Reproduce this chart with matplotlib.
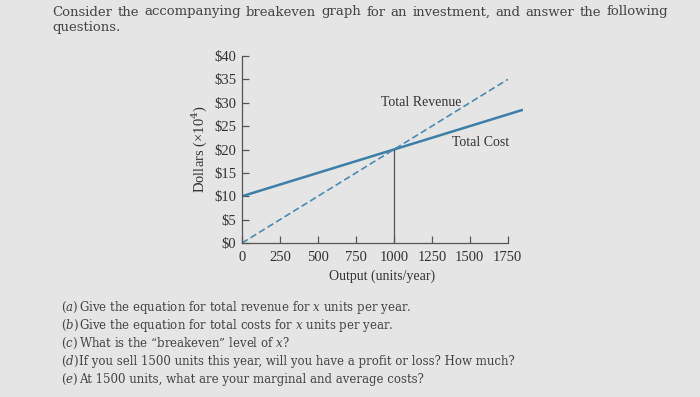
import matplotlib.pyplot as plt

# values (dollars in units of 10^4)
tick_outputs = [0, 250, 500, 750, 1000, 1250, 1500, 1750]
tick_dollars = [0, 5, 10, 15, 20, 25, 30, 35, 40]
cost_x = [0, 1000, 1850]
cost_y = [10, 20, 28.5]
revenue_x = [0, 1000, 1750]
revenue_y = [0, 20, 35]
breakeven_x = 1000
breakeven_y = 20

intro = ["Consider the accompanying breakeven graph for an investment, and answer the following",
         "questions."]
questions = [
    ("a", "Give the equation for total revenue for $x$ units per year."),
    ("b", "Give the equation for total costs for $x$ units per year."),
    ("c", "What is the \u201cbreakeven\u201d level of $x$?"),
    ("d", "If you sell 1500 units this year, will you have a profit or loss? How much?"),
    ("e", "At 1500 units, what are your marginal and average costs?"),
]

plt.rcParams["mathtext.fontset"] = "dejavuserif"

bg = "#e5e5e5"
ink = "#333333"
line_blue = "#3d7fa6"

fig = plt.figure(figsize=(7, 3.97), dpi=100, facecolor=bg)
ax = fig.add_axes([242 / 700, 154 / 397, 281 / 700, 187 / 397])
ax.set_facecolor(bg)

ax.plot(cost_x, cost_y, color=line_blue, lw=1.8, solid_capstyle="butt")
ax.plot(revenue_x, revenue_y, color="#4a8ab0", lw=1.2, ls=(0, (4, 2)))
ax.plot([breakeven_x, breakeven_x], [0, breakeven_y], color="#555555", lw=0.9)

ax.set_xlim(0, 1850)
ax.set_ylim(0, 40)
for side in ["top", "right"]:
    ax.spines[side].set_visible(False)
ax.spines["left"].set_bounds(0, 40)
ax.spines["bottom"].set_bounds(0, 1750)
for side in ["left", "bottom"]:
    ax.spines[side].set_color("#555555")
    ax.spines[side].set_linewidth(0.9)

serif = "Liberation Serif"
ax.set_xticks(tick_outputs)
ax.set_xticklabels([str(v) for v in tick_outputs], family=serif, fontsize=10.5, color=ink)
ax.set_yticks(tick_dollars)
ax.set_yticklabels(["\\$%d" % v for v in tick_dollars], family=serif, fontsize=10.5, color=ink)
ax.tick_params(direction="in", length=5, width=0.9, color="#555555", pad=4)
ax.tick_params(axis="x", pad=6)

ax.set_xlabel("Output (units/year)", family=serif, fontsize=10, color=ink, labelpad=4)
ax.set_ylabel("Dollars (\u00d710$^4$)", family=serif, fontsize=10.5, color=ink, labelpad=4)

ax.text(1180, 30.1, "Total Revenue", family=serif, fontsize=10, color=ink, ha="center", va="center")
ax.text(1570, 21.4, "Total Cost", family=serif, fontsize=10, color=ink, ha="center", va="center")

# intro text, first line justified between the page margins
left_px, right_px = 52, 668
words = intro[0].split()
renderer = fig.canvas.get_renderer()
items = []
for w in words:
    t = fig.text(0, 1 - 12 / 397, w, family="DejaVu Serif", fontsize=9.5,
                 color="#444444", va="center", ha="left")
    items.append((t, t.get_window_extent(renderer).width))
gap = (right_px - left_px - sum(wd for _, wd in items)) / (len(items) - 1)
pos = left_px
for t, wd in items:
    t.set_x(pos / 700)
    pos += wd + gap
fig.text(left_px / 700, 1 - 27 / 397, intro[1], family="DejaVu Serif", fontsize=9.5,
         color="#444444", va="center", ha="left")

for i, (tag, body) in enumerate(questions):
    y = 1 - (307 + 18 * i) / 397
    fig.text(61 / 700, y, "($%s$)" % tag, family="DejaVu Serif", fontsize=8.5,
             color="#444444", va="center", ha="left")
    fig.text(79 / 700, y, body, family="DejaVu Serif", fontsize=8.5, color="#444444",
             va="center", ha="left")

fig.savefig("out.png", dpi=100, facecolor=bg)
